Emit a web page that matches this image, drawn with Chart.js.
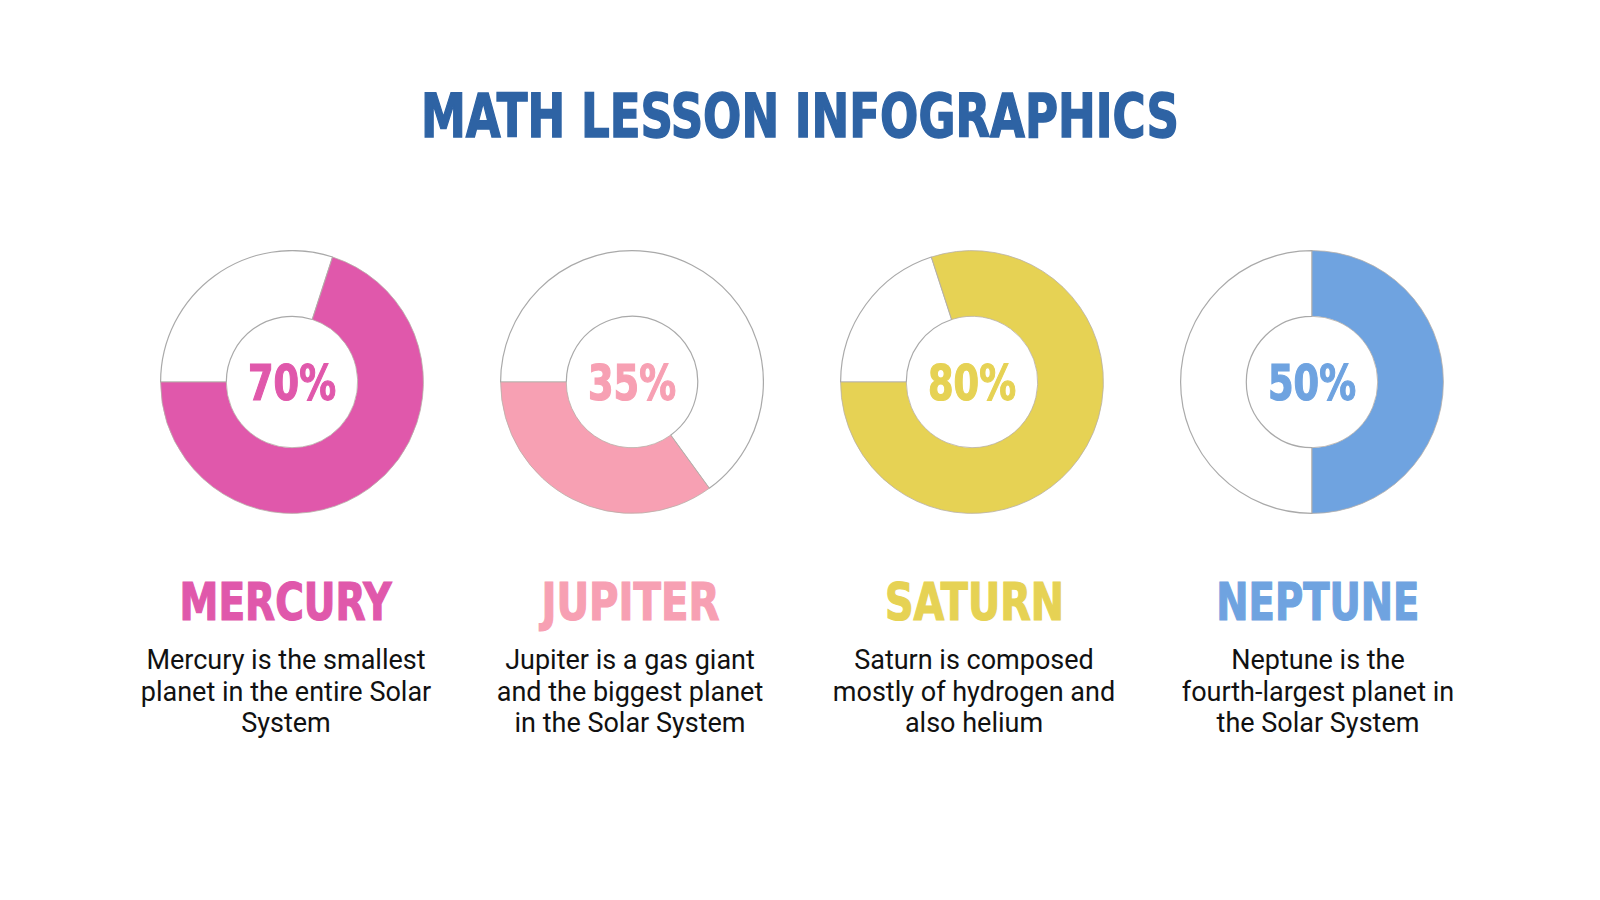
<!DOCTYPE html>
<html>
<head>
<meta charset="utf-8">
<script src="https://cdn.jsdelivr.net/npm/chart.js@4.4.1/dist/chart.umd.min.js"></script>
<style>
  body { margin: 0; width: 1600px; height: 900px; background: #fff; position: relative; overflow: hidden; }
  .heavy { font-family: "DejaVu Sans Condensed", "DejaVu Sans"; font-stretch: condensed; font-weight: bold;
           text-align: center; white-space: nowrap; }
  .heavy span { display: inline-block; transform-origin: 50% 50%; }
  h1 { position: absolute; top: 86px; left: 0; width: 1600px; margin: 0;
       font-size: 60px; line-height: 60px; color: #2e63a4; -webkit-text-stroke: 1.4px #2e63a4; }
  .ring { position: absolute; top: 250px; width: 264px; height: 264px; }
  .name { position: absolute; top: 577px; width: 340px; font-size: 51px; line-height: 51px; }
  .desc { position: absolute; top: 645px; width: 340px; text-align: center;
          font-family: Roboto; font-size: 27px; line-height: 31.5px; color: #111; }
</style>
</head>
<body>
<h1 class="heavy"><span id="title">MATH LESSON INFOGRAPHICS</span></h1>
<script>
var planets = ["MERCURY", "JUPITER", "SATURN", "NEPTUNE"];
var percents = [70, 35, 80, 50];
var descriptions = [
  ["Mercury is the smallest", "planet in the entire Solar", "System"],
  ["Jupiter is a gas giant", "and the biggest planet", "in the Solar System"],
  ["Saturn is composed", "mostly of hydrogen and", "also helium"],
  ["Neptune is the", "fourth-largest planet in", "the Solar System"]
];
var colors = ["#e058ab", "#f7a0b3", "#e6d254", "#6fa3e0"];
var startAngles = [270, 270, 270, 180];

// squeeze a heading span so it gets the narrow look of the original
function squeeze(span, target) {
  var w = span.getBoundingClientRect().width;
  span.style.transform = "scaleX(" + (target / w) + ")";
}
squeeze(document.getElementById("title"), 758);

// writes the percent in the middle of each ring
var centerText = {
  id: "centerText",
  afterDraw: function (chart) {
    var ctx = chart.ctx;
    var arc = chart.getDatasetMeta(0).data[0];
    var opts = chart.options.plugins.centerText;
    ctx.save();
    ctx.font = "bold 49px 'DejaVu Sans Condensed', 'DejaVu Sans'";
    ctx.fontStretch = "condensed";
    var k = 88 / ctx.measureText("70%").width;
    ctx.translate(arc.x, arc.y + 18);
    ctx.scale(k, 1);
    ctx.fillStyle = opts.color;
    ctx.strokeStyle = opts.color;
    ctx.lineWidth = 1.2;
    ctx.textAlign = "center";
    ctx.textBaseline = "alphabetic";
    ctx.fillText(opts.text, 0, 0);
    ctx.strokeText(opts.text, 0, 0);
    ctx.restore();
  }
};

var nameWidths = [212, 178, 179, 203];

for (let i = 0; i < planets.length; i++) {
  const box = document.createElement("div");
  box.className = "ring";
  box.style.left = (292 + i * 340 - 132) + "px";
  const canvas = document.createElement("canvas");
  box.appendChild(canvas);
  document.body.appendChild(box);

  const name = document.createElement("div");
  name.className = "name heavy";
  name.style.left = (286 + i * 344 - 170) + "px";
  name.style.color = colors[i];
  name.style.webkitTextStroke = "1.2px " + colors[i];
  const span = document.createElement("span");
  span.textContent = planets[i];
  name.appendChild(span);
  document.body.appendChild(name);
  squeeze(span, nameWidths[i]);

  const desc = document.createElement("div");
  desc.className = "desc";
  desc.style.left = (286 + i * 344 - 170) + "px";
  desc.innerHTML = descriptions[i].join("<br>");
  document.body.appendChild(desc);

  new Chart(canvas, {
    type: "doughnut",
    data: {
      labels: ["rest", planets[i]],
      datasets: [{
        data: [100 - percents[i], percents[i]],
        backgroundColor: ["#ffffff", colors[i]],
        borderColor: ["#a9a9a9", "#b8b0a8"],
        borderWidth: [1.2, 0.8],
        hoverOffset: 0
      }]
    },
    options: {
      responsive: true,
      maintainAspectRatio: false,
      animation: false,
      cutout: "50%",
      rotation: startAngles[i],
      layout: { padding: 0 },
      events: [],
      plugins: {
        legend: { display: false },
        tooltip: { enabled: false },
        centerText: { text: percents[i] + "%", color: colors[i] }
      }
    },
    plugins: [centerText]
  });
}
</script>
</body>
</html>
